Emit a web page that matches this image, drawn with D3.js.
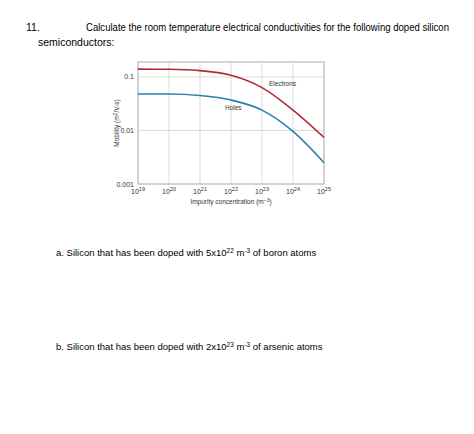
<!DOCTYPE html><html><head><meta charset="utf-8"><script src="https://d3js.org/d3.v7.min.js"></script>
<style>body{margin:0;background:#fff}text{font-family:"Liberation Sans",Arial,sans-serif}</style></head><body>
<svg id="c" width="474" height="434"></svg>
<script>
const conc=[1e19,1e20,1e21,1e22,1e23,1e24,1e25];
const electrons=[0.14,0.139,0.131,0.107,0.063,0.024,0.0074];
const holes=[0.048,0.048,0.045,0.037,0.024,0.0096,0.0025];
const xTicks=[19,20,21,22,23,24,25];
const yTicks=[0.001,0.01,0.1];
const svg=d3.select("#c");
const x=d3.scaleLog().domain([1e19,1e25]).range([138,324]);
const y=d3.scaleLog().domain([0.001,0.19]).range([184,62]);
svg.append("text").attr("x",26).attr("y",31).attr("font-size",10.5).text("11.");
svg.append("text").attr("x",86).attr("y",31).attr("font-size",10.5).attr("textLength",363).attr("lengthAdjust","spacingAndGlyphs").text("Calculate the room temperature electrical conductivities for the following doped silicon");
svg.append("text").attr("x",38).attr("y",46).attr("font-size",10.5).text("semiconductors:");
const g=svg.append("g");
g.append("rect").attr("x",138).attr("y",62).attr("width",186).attr("height",122).attr("fill","none").attr("stroke","#999").attr("stroke-width",0.8);
xTicks.forEach(t=>g.append("line").attr("x1",x(10**t)).attr("x2",x(10**t)).attr("y1",62).attr("y2",184).attr("stroke","#ccc").attr("stroke-width",0.7));
yTicks.forEach(t=>g.append("line").attr("x1",138).attr("x2",324).attr("y1",y(t)).attr("y2",y(t)).attr("stroke","#ccc").attr("stroke-width",0.7));
yTicks.forEach(t=>g.append("text").attr("x",134).attr("y",y(t)+2.5).attr("text-anchor","end").attr("font-size",7).attr("fill","#333").text(t));
xTicks.forEach(t=>{const tx=g.append("text").attr("x",x(10**t)).attr("y",194).attr("text-anchor","middle").attr("font-size",7).attr("fill","#333");tx.append("tspan").text("10");tx.append("tspan").attr("dy",-3).attr("font-size",5.5).text(t);});
const tl=g.append("text").attr("x",231).attr("y",204).attr("text-anchor","middle").attr("font-size",6.5).attr("fill","#333");
tl.append("tspan").text("Impurity concentration (m");tl.append("tspan").attr("dy",-2).attr("font-size",5).text("−3");tl.append("tspan").attr("dy",2).text(")");
const yl=g.append("text").attr("transform","translate(119,123) rotate(-90)").attr("text-anchor","middle").attr("font-size",6.5).attr("fill","#333");
yl.append("tspan").text("Mobility (m");yl.append("tspan").attr("dy",-2).attr("font-size",5).text("2");yl.append("tspan").attr("dy",2).text("/V-s)");
const line=d3.line().x((d,i)=>x(conc[i])).y(d=>y(d)).curve(d3.curveMonotoneX);
g.append("path").attr("d",line(electrons)).attr("fill","none").attr("stroke","#b22a35").attr("stroke-width",1.6);
g.append("path").attr("d",line(holes)).attr("fill","none").attr("stroke","#2a7fb0").attr("stroke-width",1.6);
g.append("text").attr("x",269).attr("y",86).attr("font-size",6.5).attr("fill","#333").text("Electrons");
g.append("text").attr("x",225).attr("y",110).attr("font-size",6.5).attr("fill","#333").text("Holes");
function q(yy,pre,exp,post){const t=svg.append("text").attr("x",56).attr("y",yy).attr("font-size",9.5);t.append("tspan").text(pre);t.append("tspan").attr("dy",-3).attr("font-size",6.5).text(exp);t.append("tspan").attr("dy",3).text(" m");t.append("tspan").attr("dy",-3).attr("font-size",6.5).text("-3");t.append("tspan").attr("dy",3).text(post);}
q(256,"a.   Silicon that has been doped with 5x10","22"," of boron atoms");
q(350,"b.   Silicon that has been doped with 2x10","23"," of arsenic atoms");
</script></body></html>
